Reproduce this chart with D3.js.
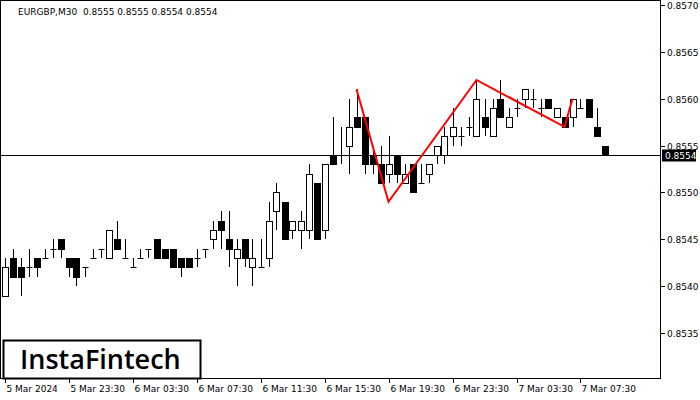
<!DOCTYPE html><html><head><meta charset="utf-8"><script src="https://cdn.jsdelivr.net/npm/d3@7"></script>
<style>body{margin:0;background:#fff}</style></head><body><svg id="c" width="700" height="400"></svg>
<script>
const open=[.8539,.8543,.8542,.8542,.8543,.8543,.8544,.8545,.8543,.8543,.8542,.8543,.8544,.8543,.8545,.8543,.8542,.8543,.8544,.8545,.8544,.8544,.8543,.8543,.8543,.8544,.8545,.8547,.8545,.8543,.8545,.8542,.8542,.8543,.8548,.8549,.8546,.8546,.8546,.8551,.8546,.8554,.8554,.8555,.8558,.8558,.8554,.8553,.8552,.8554,.8551,.8553,.8551,.8552,.8554,.8554,.8556,.8556,.8557,.8556,.8558,.8556,.8560,.8557,.8559,.8560,.8560,.8559,.8560,.8558,.8558,.8558,.8559,.8560,.8557,.8555];
const high=[.8543,.8544,.8543,.8544,.8543,.8544,.8545,.8545,.8543,.8543,.8542,.8544,.8544,.8546,.8547,.8545,.8543,.8544,.8544,.8545,.8544,.8544,.8543,.8543,.8544,.8544,.8547,.8548,.8548,.8545,.8545,.8545,.8545,.8549,.8551,.8549,.8547,.8548,.8553,.8551,.8553,.8558,.8557,.8560,.8561,.8558,.8555,.8555,.8556,.8554,.8553,.8553,.8553,.8553,.8555,.8557,.8559,.8557,.8558,.8562,.8560,.8560,.8562,.8559,.8560,.8561,.8561,.8560,.8560,.8559,.8558,.8560,.8560,.8560,.8559,.8555];
const low=[.8539,.8541,.8539,.8541,.8541,.8543,.8543,.8543,.8541,.8540,.8541,.8543,.8543,.8543,.8544,.8543,.8542,.8543,.8543,.8543,.8543,.8542,.8541,.8542,.8542,.8543,.8544,.8544,.8542,.8540,.8542,.8540,.8542,.8542,.8546,.8545,.8545,.8544,.8545,.8545,.8545,.8553,.8553,.8552,.8557,.8552,.8552,.8551,.8551,.8551,.8551,.8550,.8551,.8551,.8553,.8553,.8555,.8555,.8556,.8556,.8556,.8556,.8558,.8557,.8558,.8559,.8559,.8558,.8559,.8558,.8557,.8557,.8559,.8558,.8556,.8554];
const close=[.8542,.8541,.8541,.8542,.8542,.8543,.8544,.8544,.8542,.8541,.8542,.8543,.8544,.8546,.8544,.8543,.8542,.8543,.8544,.8543,.8543,.8542,.8542,.8542,.8543,.8544,.8546,.8546,.8544,.8544,.8543,.8543,.8542,.8547,.8550,.8545,.8547,.8547,.8552,.8545,.8553,.8553,.8554,.8557,.8557,.8553,.8553,.8551,.8553,.8552,.8552,.8550,.8551,.8553,.8555,.8556,.8557,.8556,.8557,.8560,.8557,.8559,.8558,.8558,.8559,.8561,.8560,.8559,.8559,.8559,.8557,.8560,.8559,.8558,.8556,.8554];
const patIdx=[44,48,59,70,71];
const patVal=[.8561,.8549,.8562,.8557,.8560];
const yTicks=[.8535,.8540,.8545,.8550,.8555,.8560,.8565,.8570];
const xTickIdx=[0,8,16,24,32,40,48,56,64,72];
const xTickLab=["5 Mar 2024","5 Mar 23:30","6 Mar 03:30","6 Mar 07:30","6 Mar 11:30","6 Mar 15:30","6 Mar 19:30","6 Mar 23:30","7 Mar 03:30","7 Mar 07:30"];
const current=.8554;
const title="EURGBP,M30  0.8555 0.8555 0.8554 0.8554";

const svg=d3.select("#c");
const x=d3.scaleLinear().domain([0,75]).range([4.5,604.5]);
const y=d3.scaleLinear().domain([.8535,.8570]).range([333,5]);
const F="DejaVu Sans, sans-serif";
svg.append("rect").attr("x",0.5).attr("y",0.5).attr("width",660).attr("height",378).attr("fill","none").attr("stroke","#000");
yTicks.forEach(t=>{const yy=Math.round(y(t))+.5;
 svg.append("line").attr("x1",660).attr("x2",665).attr("y1",yy).attr("y2",yy).attr("stroke","#000");
 svg.append("text").attr("x",667).attr("y",yy+3).text(t.toFixed(4)).attr("font-family",F).attr("font-size",9);});
xTickIdx.forEach((t,i)=>{const xx=Math.round(x(t))+.5;
 svg.append("line").attr("x1",xx).attr("x2",xx).attr("y1",378).attr("y2",383).attr("stroke","#000");
 svg.append("text").attr("x",xx+1).attr("y",392).text(xTickLab[i]).attr("font-family",F).attr("font-size",9);});
const cy=Math.round(y(current))+.5;
svg.append("line").attr("x1",0).attr("x2",660).attr("y1",cy).attr("y2",cy).attr("stroke","#000");
const g=svg.append("g");
open.forEach((o,i)=>{const c=close[i],xx=Math.round(x(i))+.5;
 g.append("line").attr("x1",xx).attr("x2",xx).attr("y1",Math.round(y(high[i]))).attr("y2",Math.round(y(low[i]))).attr("stroke","#000");
 const t=Math.round(y(Math.max(o,c))),b=Math.round(y(Math.min(o,c)));
 if(b-t<1){g.append("line").attr("x1",xx-3).attr("x2",xx+3).attr("y1",t+.5).attr("y2",t+.5).attr("stroke","#000");}
 else g.append("rect").attr("x",xx-3).attr("y",t+.5).attr("width",6).attr("height",b-t).attr("fill",c>o?"#fff":"#000").attr("stroke","#000");});
svg.append("path").attr("d",d3.line().x((d,i)=>x(patIdx[i])).y(d=>y(d))(patVal)).attr("fill","none").attr("stroke","#ff0000").attr("stroke-width",2);
svg.append("rect").attr("x",662).attr("y",cy-6).attr("width",34).attr("height",12).attr("fill","#000");
svg.append("text").attr("x",665).attr("y",cy+3.5).text(current.toFixed(4)).attr("fill","#fff").attr("font-family",F).attr("font-size",9);
svg.append("text").attr("x",18).attr("y",15).text(title).attr("font-family",F).attr("font-size",9).style("white-space","pre");
svg.append("rect").attr("x",3.5).attr("y",340.5).attr("width",197).attr("height",38).attr("fill","#fff").attr("stroke","#000").attr("stroke-width",2);
svg.append("text").attr("x",20).attr("y",369).text("InstaFintech").attr("font-family","Open Sans, sans-serif").attr("font-weight",600).attr("font-size",27).attr("fill","#000");
</script></body></html>
